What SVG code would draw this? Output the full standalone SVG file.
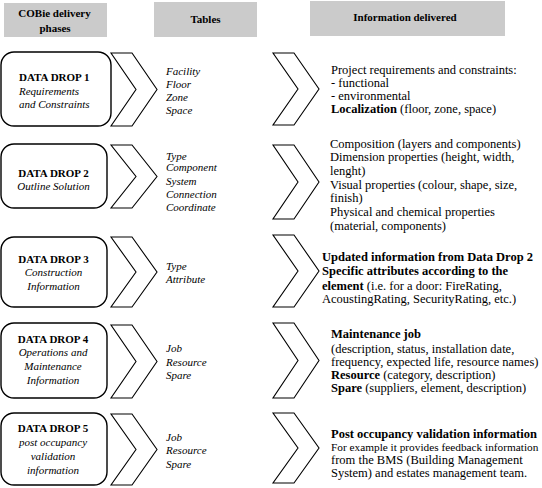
<svg xmlns="http://www.w3.org/2000/svg" width="542" height="488" viewBox="0 0 542 488" font-family="'Liberation Serif', Tinos, 'DejaVu Serif', serif">
<style>
text{font-family:'Liberation Serif',Tinos,'DejaVu Serif',serif;fill:#000}
.hd{fill:#cbcbcb;stroke:none}
.ht{font-size:11px;font-weight:bold;text-anchor:middle}
.box{fill:#fff;stroke:#000;stroke-width:1.4}
.chev{fill:#fff;stroke:#000;stroke-width:1.1;stroke-linejoin:miter}
.dd{font-size:11px;font-weight:bold}
.sub{font-size:11px;font-style:italic}
.c{text-anchor:middle}
.tb{font-size:11px;font-style:italic}
.inf{font-size:12.5px}
.b{font-weight:bold}
</style>
<g id="header-phases"><rect class="hd" x="4" y="3" width="103" height="34"/><text class="ht" x="54.5" y="17">COBie delivery</text><text class="ht" x="55" y="32">phases</text></g>
<g id="header-tables"><rect class="hd" x="154" y="2" width="103" height="35"/><text class="ht" x="205.5" y="23">Tables</text></g>
<g id="header-info"><rect class="hd" x="310" y="1" width="195" height="35"/><text class="ht" x="405" y="21">Information delivered</text></g>

<g id="connectors">
<path class="chev" d="M111,53 L132,53 L157,89.5 L132,126 L111,126 L136,89.5 Z"/>
<path class="chev" d="M273,53 L294,53 L319,89 L294,125 L273,125 L298,89 Z"/>
<path class="chev" d="M111,145 L132,145 L157,176.5 L132,208 L111,208 L136,176.5 Z"/>
<path class="chev" d="M273,145 L294,145 L319,182 L294,219 L273,219 L298,182 Z"/>
<path class="chev" d="M111,237 L132,237 L157,272 L132,307 L111,307 L136,272 Z"/>
<path class="chev" d="M273,235 L294,235 L319,271 L294,307 L273,307 L298,271 Z"/>
<path class="chev" d="M111,325 L132,325 L157,361.5 L132,398 L111,398 L136,361.5 Z"/>
<path class="chev" d="M273,323 L294,323 L319,360.5 L294,398 L273,398 L298,360.5 Z"/>
<path class="chev" d="M111,414 L132,414 L157,449.5 L132,485 L111,485 L136,449.5 Z"/>
<path class="chev" d="M273,413 L294,413 L319,448 L294,483 L273,483 L298,448 Z"/>
</g>

<g id="dd1"><rect class="box" x="1" y="52" width="110" height="74" rx="13"/>
<text class="dd" x="19" y="81">DATA DROP 1</text>
<text class="sub" x="19" y="95">Requirements</text>
<text class="sub" x="19" y="108">and Constraints</text></g>
<g id="dd2"><rect class="box" x="1" y="144" width="106" height="64" rx="13"/>
<text class="dd c" x="53.5" y="177">DATA DROP 2</text>
<text class="sub c" x="53.5" y="190">Outline Solution</text></g>
<g id="dd3"><rect class="box" x="1" y="237" width="106" height="70" rx="13"/>
<text class="dd c" x="53.5" y="263">DATA DROP 3</text>
<text class="sub c" x="53.5" y="276">Construction</text>
<text class="sub c" x="53.5" y="290">Information</text></g>
<g id="dd4"><rect class="box" x="1" y="323" width="106" height="75" rx="13"/>
<text class="dd c" x="53" y="343">DATA DROP 4</text>
<text class="sub c" x="53" y="356">Operations and</text>
<text class="sub c" x="53" y="370">Maintenance</text>
<text class="sub c" x="53" y="384">Information</text></g>
<g id="dd5"><rect class="box" x="1" y="413" width="106" height="72" rx="13"/>
<text class="dd c" x="53" y="432">DATA DROP 5</text>
<text class="sub c" x="53" y="446">post occupancy</text>
<text class="sub c" x="53" y="460">validation</text>
<text class="sub c" x="53" y="474">information</text></g>

<g id="tables1"><text class="tb" x="166" y="75">Facility</text><text class="tb" x="166" y="88">Floor</text><text class="tb" x="166" y="101">Zone</text><text class="tb" x="166" y="114">Space</text></g>
<g id="tables2"><text class="tb" x="166" y="160">Type</text><text class="tb" x="166" y="171">Component</text><text class="tb" x="166" y="185">System</text><text class="tb" x="166" y="198">Connection</text><text class="tb" x="166" y="211">Coordinate</text></g>
<g id="tables3"><text class="tb" x="166" y="270">Type</text><text class="tb" x="166" y="283">Attribute</text></g>
<g id="tables4"><text class="tb" x="166" y="352">Job</text><text class="tb" x="166" y="366">Resource</text><text class="tb" x="166" y="379">Spare</text></g>
<g id="tables5"><text class="tb" x="166" y="441">Job</text><text class="tb" x="166" y="454">Resource</text><text class="tb" x="166" y="468">Spare</text></g>

<g id="info1">
<text class="inf" x="331" y="73.5">Project requirements and constraints:</text>
<text class="inf" x="331" y="86.5">- functional</text>
<text class="inf" x="331" y="100">- environmental</text>
<text class="inf" x="331" y="112.5"><tspan class="b">Localization</tspan> (floor, zone, space)</text></g>
<g id="info2">
<text class="inf" x="330" y="147.5">Composition (layers and components)</text>
<text class="inf" x="330" y="161">Dimension properties (height, width,</text>
<text class="inf" x="330" y="174.5">lenght)</text>
<text class="inf" x="330" y="188.5">Visual properties (colour, shape, size,</text>
<text class="inf" x="330" y="202">finish)</text>
<text class="inf" x="330" y="216">Physical and chemical properties</text>
<text class="inf" x="330" y="229.5">(material, components)</text></g>
<g id="info3">
<text class="inf b" x="322" y="260.5">Updated information from Data Drop 2</text>
<text class="inf b" x="322" y="274.5">Specific attributes according to the</text>
<text class="inf" x="322" y="289.5"><tspan class="b">element</tspan>  (i.e. for a door: FireRating,</text>
<text class="inf" x="322" y="302.5">AcoustingRating, SecurityRating, etc.)</text></g>
<g id="info4">
<text class="inf b" x="331" y="337.5">Maintenance job</text>
<text class="inf" x="331" y="352.5">(description, status, installation date,</text>
<text class="inf" x="331" y="365.5">frequency, expected life, resource names)</text>
<text class="inf" x="331" y="378.5"><tspan class="b">Resource</tspan>  (category, description)</text>
<text class="inf" x="331" y="391.5"><tspan class="b">Spare</tspan> (suppliers, element, description)</text></g>
<g id="info5">
<text class="inf b" x="331" y="437.5">Post occupancy validation information</text>
<text class="inf" x="331" y="450.5" style="font-size:11.3px">For example it provides feedback information</text>
<text class="inf" x="331" y="463.5">from the BMS (Building Management</text>
<text class="inf" x="331" y="476.5">System) and estates management team.</text></g>
</svg>
